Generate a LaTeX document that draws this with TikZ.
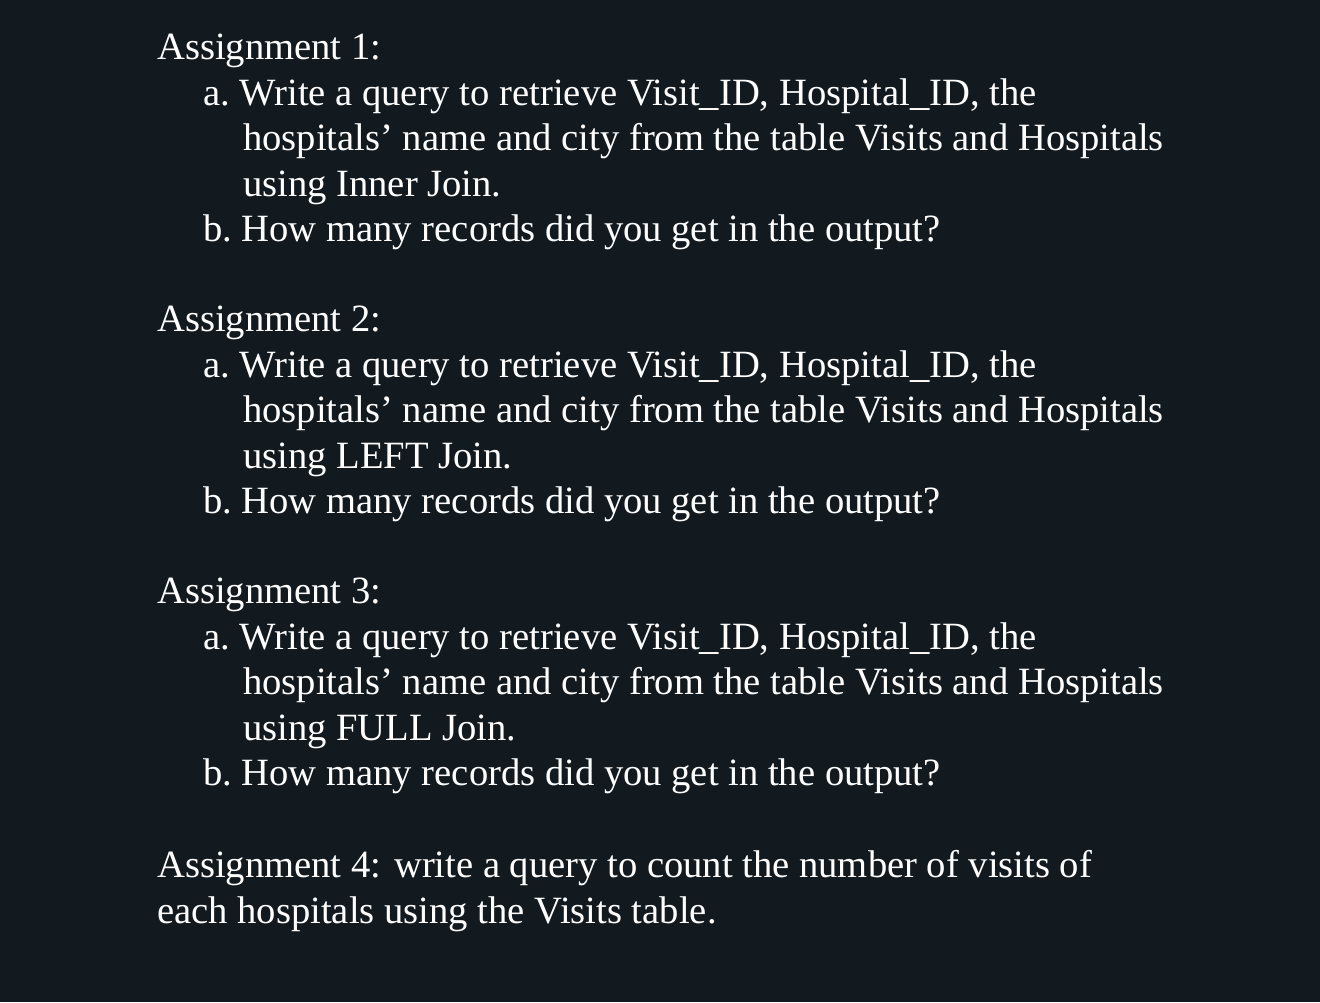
\documentclass[tikz,border=0pt]{standalone}
\usepackage{fontspec}
\setmainfont{Liberation Serif}
\definecolor{bg}{HTML}{121A20}
\begin{document}
\begin{tikzpicture}[x=1pt,y=1pt,
  txt/.style={anchor=base west,inner sep=0pt,text=white,font=\fontsize{38.6}{44}\selectfont}]
\fill[bg] (0,0) rectangle (1320,1002);
\useasboundingbox (0,0) rectangle (1320,1002);
\foreach \n/\j [count=\i] in {1/Inner,2/LEFT,3/FULL}{
  \pgfmathsetmacro{\o}{272*(\i-1)}
  \node[txt] (h\i) at (157,{1002-60-\o}) {Assignment \n:};
  \node[txt] (a\i) at (203,{1002-106-\o}) {a.\ Write a query to retrieve Visit\_ID, Hospital\_ID, the};
  \node[txt] (c\i) at (243,{1002-151-\o}) {hospitals’ name and city from the table Visits and Hospitals};
  \node[txt] (d\i) at (243,{1002-197-\o}) {using \j\ Join.};
  \node[txt] (b\i) at (203,{1002-242-\o}) {b.\ How many records did you get in the output?};
}
\node[txt] (h4) at (157,{1002-877}) {Assignment 4: write a query to count the number of visits of};
\node[txt] (e4) at (157,{1002-923}) {each hospitals using the Visits table.};
\end{tikzpicture}
\end{document}
